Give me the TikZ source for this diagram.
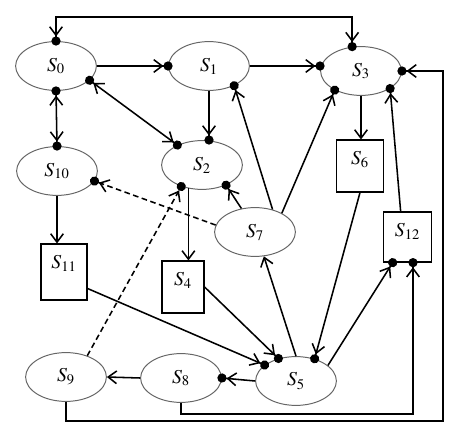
\documentclass[tikz,border=0pt]{standalone}
\usepackage{mathptmx}
\usetikzlibrary{arrows.meta,shapes.geometric}

\begin{document}
\begin{tikzpicture}[
  x=0.025cm, y=-0.025cm,
  state/.style={ellipse, draw=black!60, line width=0.7pt, minimum width=2.02cm,
    minimum height=1.22cm, inner sep=0pt, font=\fontsize{14}{16}\selectfont},
  box/.style={rectangle, draw, line width=0.8pt, minimum width=1.18cm, inner sep=0pt,
    text height=0.62cm, text depth=0.68cm, font=\fontsize{14}{16}\selectfont},
  link/.style={line width=1.1pt},
  plain/.style={link, -{Straight Barb[length=6pt,width=9pt]}},
  to dot/.style={link, -{Straight Barb[length=6pt,width=9pt] Circle[length=6.5pt]},
    shorten >=-3.2pt},
  dots/.style={link, {Circle[length=6.5pt] Straight Barb[length=6pt,width=9pt]}-{Straight Barb[length=6pt,width=9pt] Circle[length=6.5pt]},
    shorten <=-3.2pt, shorten >=-3.2pt},
  dashlink/.style={dash pattern=on 4pt off 2.5pt}
]
  \useasboundingbox (0,0) rectangle (474,432);

  \node[state] (s0) at (56,66) {$S_0$};
  \node[state] (s1) at (209,66) {$S_1$};
  \node[state] (s3) at (361,71) {$S_3$};
  \node[state] (s10) at (57,171) {$S_{10}$};
  \node[state] (s2) at (202,165) {$S_2$};
  \node[state] (s7) at (255,232) {$S_7$};
  \node[state] (s5) at (296,381) {$S_5$};
  \node[state] (s8) at (181,378) {$S_8$};
  \node[state] (s9) at (66,377) {$S_9$};

  \node[box] (s6) at (360,166) {$S_6$};
  \node[box, text depth=0.63cm] (s12) at (407.5,237) {$S_{12}$};
  \node[box, text depth=0.78cm, minimum width=1.15cm] (s11) at (64,272) {$S_{11}$};
  \node[box, minimum width=1.05cm] (s4) at (183,287) {$S_4$};

  \coordinate (top) at (200,17);
  \coordinate (rb) at (443,421);
  \coordinate (mb) at (413,414);

  % top row
  \draw[dots] (s0.north) |- (top) -| (s3.110);
  \draw[to dot] (s0.east) -- (s1.west);
  \draw[to dot] (s1.east) -- (s1.east -| s3.west);
  \draw[dots] (s0.-23) -- (s2.141);
  \draw[dots] (s0.south) -- (s10.north);
  \draw[to dot] (s1.south) -- (s1.south |- s2.north);
  \draw[plain] (s3.south) -- (s3.south |- s6.north);

  % from s7
  \draw[to dot] (s7.52) -- (s1.-38);
  \draw[to dot] (s7.35) -- (s3.-144);
  \draw[to dot] (s7.120) -- (s2.-40);
  \draw[to dot, dashlink] (s7.170) -- (s10.-15);

  % into s5
  \draw[to dot] (s6.south) -- (s5.50);
  \draw[to dot] (s4.east) -- (s5.128);
  \draw[to dot] (s11.-35) -- (s5.153);
  \draw[plain] (s2.-120) -- (s2.-120 |- s4.north);
  \draw[plain] (s10.south) -- (s10.south |- s11.north);

  % out of s5
  \draw[plain] (s5.north) -- (s7.-70);
  \draw[to dot] (s5.26) -- (s12.-120);
  \draw[to dot] (s5.west) -- (s8.east);
  \draw[plain] (s8.west) -- (s9.east);
  \draw[to dot, dashlink] (s9.45) -- (s2.-134);

  % outer loops
  \draw[to dot] (s12.105) -- (s3.-31);
  \draw[to dot] (s9.south) |- (rb) |- (s3.east);
  \draw[to dot] (s8.south) |- (mb) -- (s12.south -| mb);
\end{tikzpicture}
\end{document}
